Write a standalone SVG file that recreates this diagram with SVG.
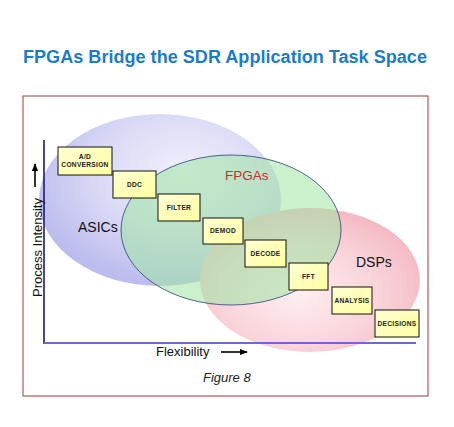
<svg xmlns="http://www.w3.org/2000/svg" width="454" height="427" viewBox="0 0 454 427">
<defs>
<radialGradient id="gBlue" cx="0.6" cy="0.35" r="0.65">
<stop offset="0" stop-color="#f0f0fc"/>
<stop offset="0.55" stop-color="#dadaf6"/>
<stop offset="1" stop-color="#bcbcee"/>
</radialGradient>
<radialGradient id="gPink" cx="0.45" cy="0.6" r="0.6">
<stop offset="0" stop-color="#feeef0"/>
<stop offset="0.6" stop-color="#f9d4da"/>
<stop offset="1" stop-color="#f4bac4"/>
</radialGradient>
<linearGradient id="gBox" x1="0" y1="0" x2="1" y2="1">
<stop offset="0" stop-color="#ffffd4"/>
<stop offset="1" stop-color="#ffffa0"/>
</linearGradient>
<marker id="arr" viewBox="0 0 10 10" refX="9" refY="5" markerWidth="5" markerHeight="5" orient="auto">
<path d="M0,1 L10,5 L0,9 z" fill="#000"/>
</marker>
</defs>
<style>
.box{fill:url(#gBox);stroke:#111;stroke-width:1}
.bt{font-family:"Liberation Sans",Arial,sans-serif;font-weight:bold;font-size:6.6px;letter-spacing:0.3px;fill:#222;text-anchor:middle}
.lbl{font-family:"Liberation Sans",Arial,sans-serif;font-size:14px;fill:#111}
.ax{font-family:"Liberation Sans",Arial,sans-serif;font-size:13px;fill:#111}
</style>
<rect width="454" height="427" fill="#fff"/>
<text x="225" y="63" text-anchor="middle" font-family="'Liberation Sans',Arial,sans-serif" font-size="17.5" font-weight="bold" fill="#1f7cc4" textLength="404" lengthAdjust="spacingAndGlyphs">FPGAs Bridge the SDR Application Task Space</text>
<rect x="23" y="96" width="405" height="300" fill="#fff" stroke="#b05a5a" stroke-width="1.2"/>
<g id="asics">
<ellipse cx="160" cy="200" rx="121" ry="86" fill="url(#gBlue)"/>
<text class="lbl" x="78" y="232">ASICs</text>
</g>
<g id="dsps">
<ellipse cx="310" cy="280" rx="110" ry="72" fill="url(#gPink)"/>
<text class="lbl" x="356" y="267">DSPs</text>
</g>
<g id="fpgas">
<ellipse cx="231" cy="230" rx="110" ry="75" fill="#9ee4a2" fill-opacity="0.55" stroke="#2c3c7c" stroke-width="0.8"/>
<text x="225" y="180" font-family="'Liberation Sans',Arial,sans-serif" font-size="13.5" fill="#c0302c">FPGAs</text>
</g>
<g id="axes">
<line x1="44" y1="140" x2="44" y2="344" stroke="#1c1c68" stroke-width="1.6"/>
<line x1="44" y1="343" x2="416" y2="343" stroke="#6a6ad0" stroke-width="2"/>
<text class="ax" transform="translate(42,297) rotate(-90)">Process Intensity</text>
<line x1="35" y1="187" x2="35" y2="164" stroke="#000" stroke-width="1.6" marker-end="url(#arr)"/>
<text class="ax" x="156" y="356">Flexibility</text>
<line x1="221" y1="352" x2="247" y2="352" stroke="#000" stroke-width="1.6" marker-end="url(#arr)"/>
<text x="203" y="382" font-family="'Liberation Sans',Arial,sans-serif" font-size="13" font-style="italic" fill="#222">Figure 8</text>
</g>
<g id="ad">
<rect class="box" x="58" y="147" width="54" height="28"/>
<text class="bt" x="85" y="159">A/D</text>
<text class="bt" x="85" y="167">CONVERSION</text>
</g>
<g id="ddc">
<rect class="box" x="113" y="171" width="43" height="27"/>
<text class="bt" x="134.5" y="186.5">DDC</text>
</g>
<g id="filter">
<rect class="box" x="158" y="194" width="42" height="27"/>
<text class="bt" x="179" y="209.5">FILTER</text>
</g>
<g id="demod">
<rect class="box" x="203" y="218" width="40" height="26"/>
<text class="bt" x="223" y="233">DEMOD</text>
</g>
<g id="decode">
<rect class="box" x="245" y="240" width="41" height="27"/>
<text class="bt" x="265.5" y="255.5">DECODE</text>
</g>
<g id="fft">
<rect class="box" x="289" y="263" width="39" height="27"/>
<text class="bt" x="308.5" y="278.5">FFT</text>
</g>
<g id="analysis">
<rect class="box" x="332" y="287" width="40" height="27"/>
<text class="bt" x="352" y="302.5">ANALYSIS</text>
</g>
<g id="decisions">
<rect class="box" x="375" y="310" width="44" height="27"/>
<text class="bt" x="397" y="325.5">DECISIONS</text>
</g>
</svg>
